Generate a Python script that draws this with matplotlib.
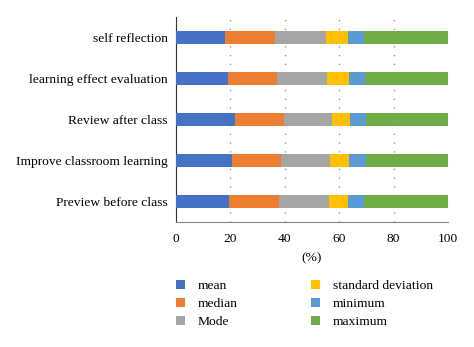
import matplotlib
matplotlib.use("Agg")
import matplotlib.pyplot as plt
import numpy as np
from matplotlib.patches import Patch

plt.rcParams['font.family'] = ['Liberation Serif', 'DejaVu Serif']

categories = ["Preview before class", "Improve classroom learning", "Review after class",
              "learning effect evaluation", "self reflection"]
series_names = ["mean", "median", "Mode", "standard deviation", "minimum", "maximum"]
mean = [19.5, 20.7, 21.7, 19.0, 18.0]
median = [18.4, 17.9, 18.0, 18.2, 18.5]
mode = [18.5, 17.9, 17.8, 18.2, 18.6]
std_dev = [6.8, 7.3, 6.5, 8.2, 8.1]
minimum = [6.0, 6.0, 6.0, 6.0, 5.8]
maximum = [30.8, 30.2, 30.0, 30.4, 31.0]
colors = ["#4472C4", "#ED7D31", "#A5A5A5", "#FFC000", "#5B9BD5", "#70AD47"]
xticks = [0, 20, 40, 60, 80, 100]

series = [mean, median, mode, std_dev, minimum, maximum]

fig = plt.figure(figsize=(4.74, 3.47), dpi=100)
ax = fig.add_axes([0.371, 0.360, 0.574, 0.592])

y = np.arange(len(categories))
left = np.zeros(len(categories))
for vals, c in zip(series, colors):
    vals = np.array(vals)
    ax.barh(y, vals, left=left, height=0.32, color=c, zorder=3)
    left += vals

ax.set_xlim(0, 100)
ax.set_ylim(-0.5, 4.5)
ax.set_yticks(y)
ax.set_yticklabels(categories, fontsize=9.7)
ax.set_xticks(xticks)
ax.set_xticklabels([str(t) for t in xticks], fontsize=9.7)
ax.tick_params(axis='both', length=0, pad=6)
ax.tick_params(axis='x', pad=8)
ax.set_xlabel("(%)", fontsize=9.7, labelpad=5)
ax.grid(axis='x', linestyle=(0, (1, 6)), color='#888888', linewidth=0.9, zorder=0)
for s in ['top', 'right']:
    ax.spines[s].set_visible(False)
ax.spines['left'].set_color('#333333')
ax.spines['bottom'].set_color('#888888')

handles = [Patch(facecolor=c, edgecolor='none') for c in colors]
common = dict(loc='upper left', frameon=False, fontsize=9.7, handlelength=0.7,
              handleheight=0.7, labelspacing=0.4, handletextpad=0.9,
              borderpad=0, borderaxespad=0)
fig.legend(handles[:3], series_names[:3], bbox_to_anchor=(176 / 474, 1 - 280 / 347), **common)
fig.legend(handles[3:], series_names[3:], bbox_to_anchor=(311 / 474, 1 - 280 / 347), **common)

fig.savefig("out.png", dpi=100)
